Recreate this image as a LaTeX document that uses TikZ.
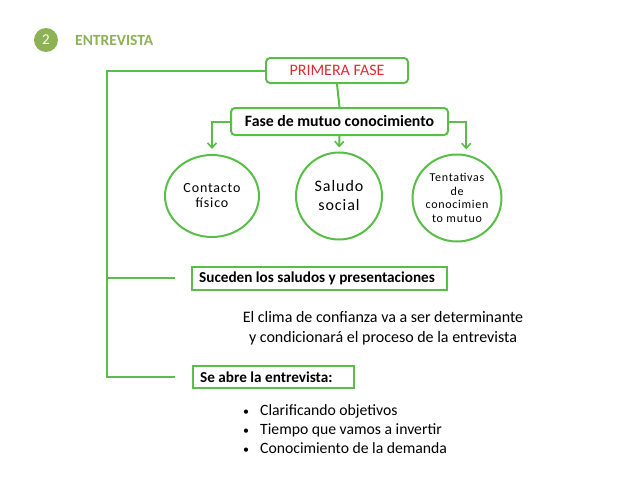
\documentclass[tikz,border=0pt]{standalone}
\usepackage{fontspec}
\setmainfont{Carlito}
\usetikzlibrary{shapes.geometric,arrows.meta}
\definecolor{lgreen}{RGB}{88,190,72}
\definecolor{olivegr}{RGB}{140,178,85}
\definecolor{fred}{RGB}{222,44,52}
\tikzset{
  gline/.style={draw=lgreen,line width=2pt},
  garrow/.style={gline,-{Straight Barb[length=5pt,width=9pt,line width=1.6pt]}},
  rbox/.style={draw=lgreen,line width=2pt,rounded corners=4pt,inner sep=0pt},
  sbox/.style={draw=lgreen,line width=2pt,inner sep=0pt,anchor=west},
  btext/.style={anchor=west,inner sep=0pt,font=\fs{15.2}\bfseries},
  gell/.style={draw=lgreen,line width=2pt,ellipse,inner sep=0pt,align=center},
}
\newcommand{\fs}[1]{\fontsize{#1}{#1}\selectfont}
\newcommand{\spaced}{\addfontfeature{LetterSpace=6}}
\newcommand{\bul}{\makebox[17pt][l]{\fs{12}\textbullet}}
\begin{document}
\begin{tikzpicture}[x=1pt,y=-1pt]
\useasboundingbox[fill=white] (0,0) rectangle (638,479);
% header
\node[circle,fill=olivegr,minimum size=24pt,inner sep=0pt,text=white,font=\fs{15}] (num) at (46,40) {2};
\node[anchor=west,text=olivegr,font=\fs{15.5}\bfseries,inner sep=0pt] (title) at (75,40) {ENTREVISTA};
% boxes
\node[rbox,minimum width=142pt,minimum height=25pt,text=fred,font=\fs{16}] (pf) at (337,70.5) {PRIMERA FASE};
\node[rbox,minimum width=217pt,minimum height=27pt,font=\fs{15.8}\bfseries] (fm) at (339.5,121.5) {Fase de mutuo conocimiento};
% ellipses
\node[gell,minimum width=94pt,minimum height=82pt,font=\fs{14}\spaced] (e1) at (212,196) {Contacto\\[1pt]físico};
\node[gell,minimum width=86pt,minimum height=87pt,font=\fs{16}\spaced] (e2) at (339,196) {Saludo\\[3pt]social};
\node[gell,minimum width=85pt,minimum height=87pt,font=\fs{12}\spaced] (e3) at (457,198) {Tentativas\\[1.5pt]de\\[1.5pt]conocimien\\[1.5pt]to mutuo};
% connectors
\draw[gline] (pf.south) -- (fm.north);
\draw[garrow,shorten >=5pt] (fm.west) -| (e1.north);
\draw[garrow,shorten >=4pt] (fm.south) -- (e2.north);
\draw[garrow,shorten >=5pt] (fm.east) -| (e3.78);
% lower boxes
\node[sbox,minimum width=255pt,minimum height=23pt] (s1) at (191,278.5) {};
\node[btext] (s1t) at ([xshift=8pt]s1.west) {Suceden los saludos y presentaciones};
\node[sbox,minimum width=161pt,minimum height=22pt] (s2) at (192,377) {};
\node[btext] (s2t) at ([xshift=8pt]s2.west) {Se abre la entrevista:};
% left bracket
\coordinate (lb) at (107,377);
\coordinate (b1) at (107,278);
\coordinate (e1end) at (175,278);
\coordinate (e2end) at (175,377);
\draw[gline] (pf.west) -| (lb) -- (e2end);
\draw[gline] (b1) -- (e1end);
% paragraph
\node[align=center,font=\fs{16},inner sep=0pt] (para) at (383,328) {El clima de confianza va a ser determinante\\[4pt] y condicionará el proceso de la entrevista};
% bullets
\node[anchor=west,align=left,font=\fs{15.7},inner sep=0pt] (bullets) at (243,429) {\bul Clarificando objetivos\\[3pt]\bul Tiempo que vamos a invertir\\[3pt]\bul Conocimiento de la demanda};
\end{tikzpicture}
\end{document}
